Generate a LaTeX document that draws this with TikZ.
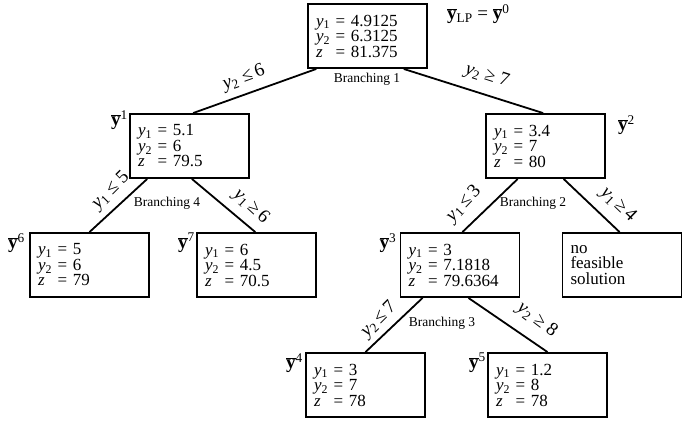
\documentclass[tikz,border=0pt]{standalone}
\usepackage{fontspec}
\setmainfont{Liberation Serif}
\usetikzlibrary{calc}
\newcommand\yy[1]{\textit{y}\textsubscript{#1}}
\newcommand\zv{\leavevmode\rlap{\textit{z}}\hphantom{\yy{1}}}
\newcommand\vals[3]{\yy{1} = #1\\ \yy{2} = #2\\ \zv{} = #3}
\newcommand\yb{$\overline{\mbox{\bfseries y}}$}
\newcommand\ybs[1]{\yb\textsuperscript{#1}}
\begin{document}
\begin{tikzpicture}[x=1pt,y=-1pt,
  box/.style={draw, line width=1.9pt, minimum width=119pt, minimum height=64pt,
    text width=103pt, inner sep=8pt, align=left, font=\fontsize{17}{15.5}\selectfont},
  conn/.style={line width=1.8pt},
  lab/.style={inner sep=0pt, font=\fontsize{19}{19}\selectfont},
  br/.style={inner sep=0pt, font=\fontsize{13.5}{14}\selectfont},
  yl/.style={inner sep=0pt, font=\fontsize{19}{19}\selectfont}]
\useasboundingbox (0,0) rectangle (685,424);
\node[box] (b0) at (367.5,36) {\vals{4.9125}{6.3125}{81.375}};
\node[box] (b1) at (189.5,146) {\vals{5.1}{6}{79.5}};
\node[box] (b2) at (545.5,146) {\vals{3.4}{7}{80}};
\node[box] (b6) at (89.5,265) {\vals{5}{6}{79}};
\node[box] (b7) at (256.5,265) {\vals{6}{4.5}{70.5}};
\node[box] (b3) at (460,265) {\vals{3}{7.1818}{79.6364}};
\node[box] (nf) at (622,265) {no\\ feasible\\ solution};
\node[box] (b4) at (365.5,385) {\vals{3}{7}{78}};
\node[box] (b5) at (547.5,385) {\vals{1.2}{8}{78}};
% connectors
\draw[conn] ($(b0.south west)!.076!(b0.south east)$) -- ($(b1.north west)!.53!(b1.north east)$);
\draw[conn] ($(b0.south west)!.80!(b0.south east)$) -- ($(b2.north west)!.48!(b2.north east)$);
\draw[conn] ($(b1.south west)!.15!(b1.south east)$) -- ($(b6.north west)!.50!(b6.north east)$);
\draw[conn] ($(b1.south west)!.52!(b1.south east)$) -- ($(b7.north west)!.49!(b7.north east)$);
\draw[conn] ($(b2.south west)!.27!(b2.south east)$) -- ($(b3.north west)!.52!(b3.north east)$);
\draw[conn] ($(b2.south west)!.65!(b2.south east)$) -- ($(nf.north west)!.48!(nf.north east)$);
\draw[conn] ($(b3.south west)!.19!(b3.south east)$) -- ($(b4.north west)!.50!(b4.north east)$);
\draw[conn] ($(b3.south west)!.57!(b3.south east)$) -- ($(b5.north west)!.50!(b5.north east)$);
% branch constraint labels
\node[lab, rotate=20] (c1) at (244,78) {\yy{2} ≤\,6};
\node[lab, rotate=-18] (c2) at (487,76) {\yy{2} ≥ 7};
\node[lab, rotate=45] (c3) at (111,191) {\yy{1} ≤ 5};
\node[lab, rotate=-43] (c4) at (251,207) {\yy{1}\,≥\,6};
\node[lab, rotate=46] (c5) at (464,204) {\yy{1}\,≤\,3};
\node[lab, rotate=-44] (c6) at (618,205) {\yy{1}\,≥\,4};
\node[lab, rotate=45] (c7) at (379,320) {\yy{2}\,≤\,7};
\node[lab, rotate=-37] (c8) at (537,320) {\yy{2} ≥ 8};
% branching texts
\node[br] (r1) at (367,79) {Branching 1};
\node[br] (r4) at (167,203) {Branching 4};
\node[br] (r2) at (533,203) {Branching 2};
\node[br] (r3) at (442,323) {Branching 3};
% solution names
\node[yl, anchor=north west] (lp) at (447,4) {\yb\textsubscript{LP} = \ybs{0}};
\node[yl, anchor=north east] (l1) at ([xshift=-1pt,yshift=3pt]b1.north west) {\ybs{1}};
\node[yl, anchor=north west] (l2) at ([xshift=12pt,yshift=-2pt]b2.north east) {\ybs{2}};
\node[yl, anchor=north east] (l6) at ([xshift=-4pt,yshift=-1pt]b6.north west) {\ybs{6}};
\node[yl, anchor=north east] (l7) at ([xshift=-1pt,yshift=-1pt]b7.north west) {\ybs{7}};
\node[yl, anchor=north east] (l3) at ([xshift=-3pt,yshift=-1pt]b3.north west) {\ybs{3}};
\node[yl, anchor=north east] (l4) at ([xshift=-2pt,yshift=-1pt]b4.north west) {\ybs{4}};
\node[yl, anchor=north east] (l5) at ([xshift=-1pt,yshift=-1pt]b5.north west) {\ybs{5}};
\end{tikzpicture}
\end{document}
